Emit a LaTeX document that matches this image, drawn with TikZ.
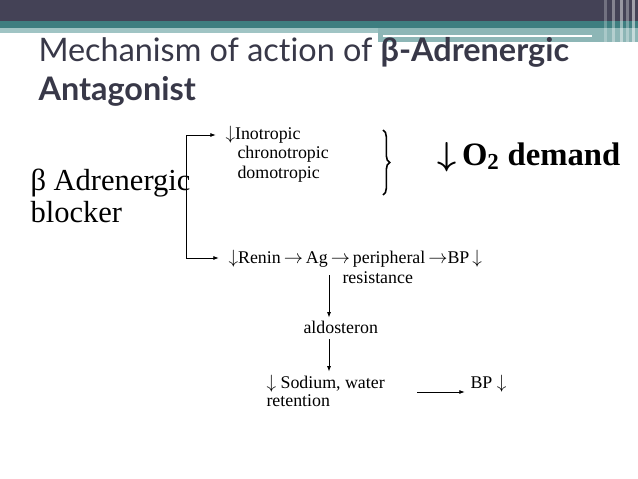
\documentclass[tikz,border=0pt]{standalone}
\usepackage{amsmath}
\usepackage{fontspec}
\setmainfont{Liberation Serif}
\newfontfamily\titlefont[Ligatures=NoCommon]{Lato}
\usetikzlibrary{arrows.meta,decorations.pathreplacing,positioning}

\definecolor{barDark}{RGB}{68,66,86}
\definecolor{barTeal}{RGB}{62,126,128}
\definecolor{barLight}{RGB}{160,196,196}
\definecolor{titleInk}{RGB}{56,56,72}

\tikzset{every picture/.style={line width=0.75pt}}
\tikzset{
  txt/.style={anchor=base west,inner sep=0pt,font=\fontsize{13.4}{16}\selectfont},
  big/.style={anchor=base west,inner sep=0pt,font=\fontsize{22.9}{26}\selectfont},
  headline/.style={anchor=base west,inner sep=0pt,text=titleInk,font=\titlefont\fontsize{24.3}{28}\selectfont},
  flow/.style={-{Latex[length=4pt,width=3pt]},line width=0.6pt},
}

\begin{document}
\begin{tikzpicture}[x=0.75pt,y=0.75pt,yscale=-1,xscale=1]
  \useasboundingbox (0,0) rectangle (638,478);

  % header bands
  \fill[barDark] (0,0) rectangle (638,21);
  \fill[barTeal] (0,21) rectangle (638,28);
  \fill[barLight] (0,28) rectangle (378,33);
  \fill[barLight!80!barTeal] (378,28) rectangle (638,42);
  \fill[white] (383,35) rectangle (592,37);
  \foreach \x/\o in {604/0.25,612/0.35,620/0.45,626/0.3,632/0.5}
    \fill[white,opacity=\o] (\x,0) rectangle ++(3,44);

  % title
  \node[headline] (title) at (38,62) {Mechanism of action of \textbf{β-Adrenergic}};
  \node[headline] (title2) at (38,100) {\textbf{Antagonist}};

  % left block
  \node[big] (blocker) at (30,190) {β Adrenergic};
  \node[big] (blocker2) at (30,222) {blocker};

  % upper branch
  \node[txt] (ino) at (225,139) {$\downarrow$Inotropic};
  \node[txt] (chrono) at (237,158) {chronotropic};
  \node[txt] (domo) at (237,178) {domotropic};
  \node[anchor=base west,inner sep=0pt,font=\bfseries\fontsize{24.5}{28}\selectfont] (otwo) at (437,165) {$\boldsymbol{\downarrow}$\,O$_{\mathbf{2}}$ demand};

  % lower branch
  \node[txt] (renin) at (228,263) {$\downarrow$Renin\,$\rightarrow$\,Ag\,$\rightarrow$\,peripheral\,$\rightarrow$BP\,$\downarrow$};
  \node[txt] (resist) at (342,283) {resistance};
  \node[txt] (aldo) at (303,333) {aldosteron};
  \node[txt] (sodium) at (266,388) {$\downarrow$ Sodium, water};
  \node[txt] (reten) at (266,406) {retention};
  \node[txt] (bp) at (470,388) {BP $\downarrow$};

  % fork
  \coordinate (forkTop) at (186,135);
  \coordinate (forkBot) at (186,258);
  \coordinate (dropA) at (329,275);
  \draw (forkTop) -- (forkBot);
  \draw[flow] (forkTop) -- ([xshift=-7pt]ino.base west |- forkTop);
  \draw[flow] (forkBot) -- ([xshift=-7pt]renin.base west |- forkBot);

  % brace
  \draw[line width=1.2pt,decorate,decoration={brace,amplitude=5pt}] (383,130) -- (383,195);

  % chain
  \draw[flow,shorten >=2pt] (dropA) -- (dropA |- aldo.north);
  \draw[flow,shorten <=4pt,shorten >=2pt] (dropA |- aldo.south) -- (dropA |- sodium.north);
  \draw[flow] ([xshift=24pt,yshift=3pt]sodium.base east) -- ([xshift=-4pt,yshift=3pt]bp.base west);

\end{tikzpicture}
\end{document}
